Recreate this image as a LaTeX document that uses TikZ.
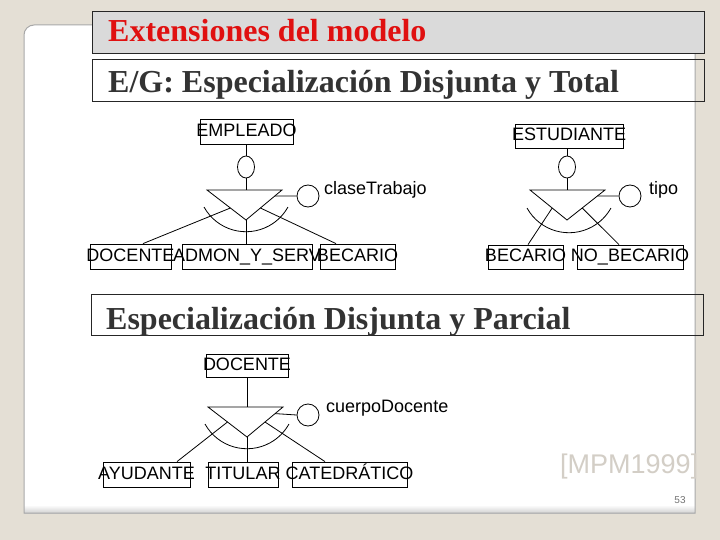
\documentclass[tikz,border=0pt]{standalone}
\usepackage{fontspec}
\setmainfont{Liberation Serif}
\setsansfont{Liberation Sans}
\usetikzlibrary{shapes.geometric,calc}
\definecolor{bg}{HTML}{E4DFD5}
\definecolor{titlegray}{HTML}{DADADA}
\definecolor{titlered}{HTML}{E01010}
\definecolor{headtxt}{HTML}{333333}
\definecolor{panelline}{HTML}{A8A8A8}
\definecolor{refgray}{HTML}{D3CEC6}
\begin{document}
\begin{tikzpicture}[x=1pt,y=-1pt,
  ent/.style={draw, line width=0.8pt, inner sep=0pt, minimum height=25pt},
  etxt/.style={font=\sffamily\fontsize{18}{18}\selectfont, inner sep=0pt, text height=12.9pt, text depth=0pt, yshift=1.5pt},
  atxt/.style={font=\sffamily\fontsize{18}{18}\selectfont, inner sep=0pt, anchor=west},
  dom/.style={draw, ellipse, line width=0.8pt, minimum width=17pt, minimum height=22pt, inner sep=0pt},
  attr/.style={draw, circle, line width=0.8pt, minimum size=22pt, inner sep=0pt},
  ln/.style={line width=0.8pt},
  headbox/.style={draw=black!85, line width=1pt},
  headtext/.style={font=\bfseries\fontsize{32}{32}\selectfont, inner sep=0pt, anchor=base west}
]
\useasboundingbox (0,0) rectangle (720,540);
\fill[bg] (0,0) rectangle (720,540);
% panel
\fill[white] (24,513) -- (24,35) arc[start angle=180,end angle=270,radius=10] -- (695,25) -- (695,513) -- cycle;
\shade[top color=white, bottom color=black!18] (24,505) rectangle (695,513);
\draw[panelline, line width=1pt] (24,513) -- (24,35) arc[start angle=180,end angle=270,radius=10] -- (695,25) -- (695,513) -- cycle;

% header boxes
\draw[headbox, fill=titlegray] (92,12) rectangle (704,54);
\node[headtext, text=titlered] (h1) at (108,42) {Extensiones del modelo};
\draw[headbox] (92,60) rectangle (704,102);
\node[headtext, text=headtxt] (h2) at (108,93) {E/G: Especialización Disjunta y Total};
\draw[headbox] (91,294) rectangle (703,335);
\node[headtext, text=headtxt] (h3) at (106,329) {Especialización Disjunta y Parcial};

% ---------- diagram 1 ----------
\node[ent, minimum width=93pt, label={[etxt]center:EMPLEADO}] (emp) at (246.5,132) {};
\node[dom] (d1) at (246,167) {};
\coordinate (t1l) at (207,190);
\coordinate (t1r) at (282,190);
\coordinate (t1a) at (246,220);
\draw[ln] (t1l) -- (t1r) -- (t1a) -- cycle;
\draw[ln] (emp.south -| d1) -- (d1.north);
\draw[ln] (d1.south) -- (d1.south |- t1l);
\node[attr] (c1) at (308,196) {};
\draw[ln] ($(t1r)!0.2!(t1a)$) -- (c1.west);
\node[atxt] (lc1) at (324,190) {claseTrabajo};
\draw[ln] (204,207) arc[start angle=151,end angle=29,radius=48];
\node[ent, minimum width=81pt, label={[etxt]center:DOCENTE}] (doc1) at (130.5,256.5) {};
\node[ent, minimum width=130pt, label={[etxt]center:ADMON\_Y\_SERV}] (adm) at (247,256.5) {};
\node[ent, minimum width=75pt, label={[etxt]center:BECARIO}] (bec1) at (357.5,256.5) {};
\draw[ln] ($(t1l)!0.6!(t1a)$) -- ($(doc1.north)+(12.5,0)$);
\draw[ln] (t1a) -- (t1a |- adm.north);
\draw[ln] ($(t1r)!0.6!(t1a)$) -- ($(bec1.north)+(-21.5,0)$);

% ---------- diagram 2 ----------
\node[ent, minimum width=108pt, minimum height=24pt, label={[etxt]center:ESTUDIANTE}] (est) at (569,136) {};
\node[dom] (d2) at (567,167) {};
\coordinate (t2l) at (530,190);
\coordinate (t2r) at (605,190);
\coordinate (t2a) at (567,220);
\draw[ln] (t2l) -- (t2r) -- (t2a) -- cycle;
\draw[ln] (est.south -| d2) -- (d2.north);
\draw[ln] (d2.south) -- (d2.south |- t2l);
\node[attr] (c2) at (630,196) {};
\draw[ln] ($(t2r)!0.2!(t2a)$) -- (c2.west);
\node[atxt] (lc2) at (649,190) {tipo};
\draw[ln] (527,208) arc[start angle=151,end angle=29,radius=48];
\node[ent, minimum width=75pt, minimum height=24pt, label={[etxt]center:BECARIO}] (bec2) at (525.5,257) {};
\node[ent, minimum width=106pt, minimum height=24pt, label={[etxt]center:NO\_BECARIO}] (nob) at (630,257) {};
\draw[ln] ($(t2l)!0.6!(t2a)$) -- ($(bec2.north)+(2.5,0)$);
\draw[ln] ($(t2r)!0.6!(t2a)$) -- ($(nob.north)+(-11,0)$);

% ---------- diagram 3 ----------
\node[ent, minimum width=82pt, minimum height=23pt, label={[etxt]center:DOCENTE}] (doc2) at (247,365.5) {};
\coordinate (t3l) at (208,407);
\coordinate (t3r) at (283,407);
\coordinate (t3a) at (247,437);
\draw[ln] (t3l) -- (t3r) -- (t3a) -- cycle;
\draw[ln] (doc2.south) -- (doc2.south |- t3l);
\node[attr] (c3) at (308,415) {};
\draw[ln] ($(t3r)!0.22!(t3a)$) -- (c3.west);
\node[atxt] (lc3) at (326,408) {cuerpoDocente};
\draw[ln] (205,424) arc[start angle=151,end angle=29,radius=48];
\node[ent, minimum width=87pt, label={[etxt]center:AYUDANTE}] (ayu) at (146.5,474.5) {};
\node[ent, minimum width=70pt, label={[etxt]center:TITULAR}] (tit) at (243,474.5) {};
\node[ent, minimum width=115pt, label={[etxt]center:CATEDRÁTICO}] (cat) at (349.5,474.5) {};
\draw[ln] ($(t3l)!0.5!(t3a)$) -- ($(ayu.north)+(30.5,0)$);
\draw[ln] (t3a) -- (t3a |- tit.north);
\draw[ln] ($(t3r)!0.5!(t3a)$) -- ($(cat.north)+(-24.5,0)$);

% ---------- footer ----------
\begin{scope}
\clip (0,0) rectangle (696,540);
\node[font=\sffamily\fontsize{27}{27}\selectfont, text=refgray, inner sep=0pt, anchor=base west] (ref) at (560,473) {[MPM1999]};
\end{scope}
\node[font=\sffamily\fontsize{10}{10}\selectfont, text=black!55, inner sep=0pt] (pg) at (680,500) {53};
\end{tikzpicture}
\end{document}
